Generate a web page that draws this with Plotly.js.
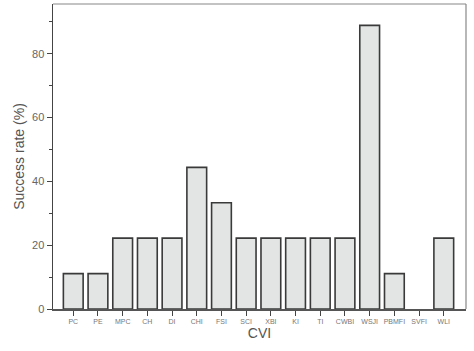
<!DOCTYPE html>
<html>
<head>
<meta charset="utf-8">
<script src="https://cdn.plot.ly/plotly-3.0.1.min.js"></script>
<style>html,body{margin:0;padding:0;background:#fff;}#chart{width:474px;height:351px;}</style>
</head>
<body>
<div id="chart"></div>
<script>
const categories = ["PC","PE","MPC","CH","DI","CHI","FSI","SCI","XBI","KI","TI","CWBI","WSJI","PBMFI","SVFI","WLI"];
const successRate = [11.1,11.1,22.2,22.2,22.2,44.4,33.3,22.2,22.2,22.2,22.2,22.2,88.9,11.1,0,22.2];
const yTicks = [0,20,40,60,80];

const trace = {
  type: 'bar',
  x: categories.map((c,i)=>i),
  y: successRate,
  width: 0.8,
  marker: {color: '#e2e5e4', line: {color: '#3a3a3a', width: successRate.map(v => v > 0 ? 1.6 : 0)}},
  hoverinfo: 'skip'
};

const layout = {
  width: 474, height: 351,
  margin: {l: 53, r: 8, t: 4, b: 42},
  paper_bgcolor: '#fff', plot_bgcolor: '#fff',
  showlegend: false,
  font: {family: 'Liberation Sans, Arial, sans-serif', color: '#555'},
  xaxis: {
    range: [-0.82, 15.9],
    tickmode: 'array',
    tickvals: categories.map((c,i)=>i),
    ticktext: categories,
    ticks: 'outside', ticklen: 5, tickwidth: 1, tickcolor: '#444',
    tickfont: {size: 7, color: '#777'},
    showline: true, linecolor: '#555', linewidth: 1.5, mirror: false,
    showgrid: false, zeroline: false,
    title: {text: 'CVI', font: {size: 14, color: '#555'}, standoff: 2}
  },
  yaxis: {
    range: [0, 95.6],
    tickmode: 'array', tickvals: yTicks,
    ticks: 'outside', ticklen: 5, tickwidth: 1, tickcolor: '#444',
    minor: {dtick: 10, tick0: 0, ticks: 'outside', ticklen: 3, tickcolor: '#444', showgrid: false},
    tickfont: {size: 11, color: '#666'},
    showline: true, linecolor: '#444', linewidth: 1.5,
    showgrid: false, zeroline: false,
    title: {text: 'Success rate (%)', font: {size: 14, color: '#555'}, standoff: 4}
  },
  shapes: [
    {type:'line', xref:'paper', yref:'paper', x0:0, x1:1, y0:1, y1:1, line:{color:'#888', width:1.2}},
    {type:'line', xref:'paper', yref:'paper', x0:1, x1:1, y0:0, y1:1, line:{color:'#888', width:1.2}}
  ]
};

Plotly.newPlot('chart', [trace], layout, {displayModeBar: false, staticPlot: true});
</script>
</body>
</html>
